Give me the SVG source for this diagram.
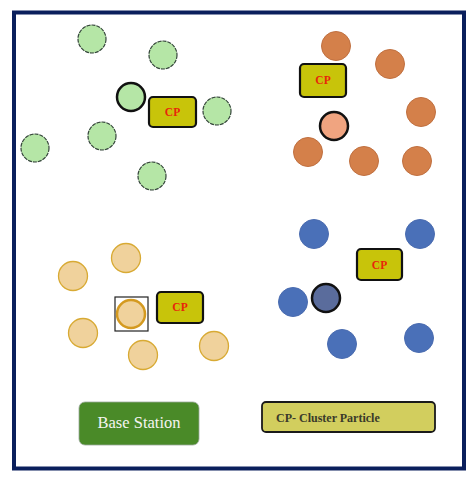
<svg xmlns="http://www.w3.org/2000/svg" width="474" height="484" viewBox="0 0 474 484">
<style>
.g{fill:#b5e6a6;stroke:#34443a;stroke-width:1.2;stroke-dasharray:4 1}
.o{fill:#d4804a;stroke:#c07040;stroke-width:1}
.t{fill:#f0d29c;stroke:#d8aa34;stroke-width:1.3}
.b{fill:#4a70b8;stroke:#4a6cb0;stroke-width:1}
.cp rect{fill:#c8c40a;stroke:#111;stroke-width:2.2}
.cp text{fill:#e8260a;font-family:"Liberation Serif",serif;font-weight:bold;font-size:11.5px;text-anchor:middle}
</style>
<rect x="14" y="12.5" width="450" height="456" fill="#fff" stroke="#0a1f5c" stroke-width="4"/>
<g id="green-cluster">
<circle class="g" cx="92" cy="39" r="14"/>
<circle class="g" cx="163" cy="55" r="14"/>
<circle cx="131" cy="97" r="14" fill="#b5e6a6" stroke="#111" stroke-width="2.5"/>
<circle class="g" cx="217" cy="111" r="14"/>
<circle class="g" cx="102" cy="136" r="14"/>
<circle class="g" cx="35" cy="148" r="14"/>
<circle class="g" cx="152" cy="176" r="14"/>
</g>
<g id="cp-green" class="cp"><rect x="149" y="97" width="47" height="30" rx="4"/><text x="172.5" y="116">CP</text></g>
<g id="orange-cluster">
<circle class="o" cx="336" cy="46" r="14.5"/>
<circle class="o" cx="390" cy="64" r="14.5"/>
<circle class="o" cx="421" cy="112" r="14.5"/>
<circle cx="334" cy="126" r="14" fill="#f0a480" stroke="#111" stroke-width="2.5"/>
<circle class="o" cx="308" cy="152" r="14.5"/>
<circle class="o" cx="364" cy="161" r="14.5"/>
<circle class="o" cx="417" cy="161" r="14.5"/>
</g>
<g id="cp-orange" class="cp"><rect x="300" y="64" width="46" height="33" rx="4"/><text x="323" y="84">CP</text></g>
<g id="tan-cluster">
<circle class="t" cx="73" cy="276" r="14.5"/>
<circle class="t" cx="126" cy="258" r="14.5"/>
<rect x="115" y="297" width="33" height="34" fill="none" stroke="#222" stroke-width="1.2"/>
<circle cx="131" cy="314" r="14" fill="#f0d29c" stroke="#d49a20" stroke-width="2.5"/>
<circle class="t" cx="83" cy="333" r="14.5"/>
<circle class="t" cx="143" cy="355" r="14.5"/>
<circle class="t" cx="214" cy="346" r="14.5"/>
</g>
<g id="cp-tan" class="cp"><rect x="157" y="292" width="46" height="31" rx="4"/><text x="180" y="311">CP</text></g>
<g id="blue-cluster">
<circle class="b" cx="314" cy="234" r="14.5"/>
<circle class="b" cx="420" cy="234" r="14.5"/>
<circle class="b" cx="293" cy="302" r="14.5"/>
<circle cx="326" cy="298" r="14" fill="#5a6c9c" stroke="#111" stroke-width="2.5"/>
<circle class="b" cx="342" cy="344" r="14.5"/>
<circle class="b" cx="419" cy="338" r="14.5"/>
</g>
<g id="cp-blue" class="cp"><rect x="357" y="249" width="45" height="31" rx="4"/><text x="379.5" y="268.5">CP</text></g>
<g id="base-station"><rect x="79" y="402" width="120" height="43" rx="6" fill="#4a8a28" stroke="#9aa89a" stroke-width="0.8"/><text x="139" y="427.5" fill="#f4f4f0" font-family="Liberation Serif,serif" font-size="16.5" text-anchor="middle">Base Station</text></g>
<g id="legend"><rect x="262" y="402" width="173" height="30" rx="4" fill="#d2ce5e" stroke="#1a1a1a" stroke-width="1.8"/><text x="276" y="421.5" fill="#3a3a2a" font-family="Liberation Serif,serif" font-size="12" font-weight="bold">CP- Cluster Particle</text></g>
<g id="connectors"/>
</svg>
